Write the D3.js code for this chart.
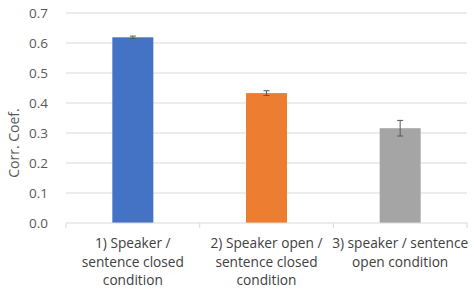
<!DOCTYPE html>
<html>
<head>
<meta charset="utf-8">
<script src="https://cdn.jsdelivr.net/npm/d3@7"></script>
<style>
  body { margin: 0; background: #fff; }
  svg { display: block; font-family: "Open Sans", "Liberation Sans", sans-serif; }
</style>
</head>
<body>
<svg id="chart"></svg>
<script>
const width = 474
const height = 293
const margin = { top: 13, right: 7, bottom: 70, left: 66 }

// data
const categories = [
    ["1) Speaker /", "sentence closed", "condition"],
    ["2) Speaker open /", "sentence closed", "condition"],
    ["3) speaker / sentence", "open condition"]
]
const values = [0.619, 0.433, 0.316]
const errors = [0.004, 0.008, 0.026]
const colors = ["#4472c4", "#ed7d31", "#a5a5a5"]
const yTicks = [0, 0.1, 0.2, 0.3, 0.4, 0.5, 0.6, 0.7]

const data = values.map((v, i) => ({ i, label: categories[i], value: v, err: errors[i], color: colors[i] }))

const svg = d3.select("#chart").attr("width", width).attr("height", height)

const x = d3.scaleBand()
    .domain(data.map(d => d.i))
    .range([margin.left, width - margin.right])
    .paddingInner(0)
    .paddingOuter(0)

const y = d3.scaleLinear()
    .domain([0, 0.7])
    .range([height - margin.bottom, margin.top])

// gridlines
svg.append("g")
    .selectAll("line")
    .data(yTicks.slice(1))
    .join("line")
    .attr("x1", margin.left)
    .attr("x2", width - margin.right)
    .attr("y1", d => y(d))
    .attr("y2", d => y(d))
    .attr("stroke", "#d9d9d9")
    .attr("stroke-width", 1)

// y axis labels
svg.append("g")
    .attr("transform", `translate(${margin.left},0)`)
    .call(d3.axisLeft(y).tickValues(yTicks).tickFormat(d3.format(".1f")).tickSize(0).tickPadding(18))
    .call(g => g.select(".domain").remove())
    .call(g => g.selectAll("text").attr("fill", "#595959").attr("font-size", 13.5)
        .attr("font-family", "'Open Sans', sans-serif"))

// y title
svg.append("text")
    .attr("transform", `translate(19,143) rotate(-90)`)
    .attr("text-anchor", "middle")
    .attr("fill", "#595959")
    .attr("font-size", 14)
    .text("Corr. Coef.")

// bars
const barW = 41
svg.append("g")
    .selectAll("rect")
    .data(data)
    .join("rect")
    .attr("x", d => x(d.i) + x.bandwidth() / 2 - barW / 2)
    .attr("y", d => y(d.value))
    .attr("width", barW)
    .attr("height", d => y(0) - y(d.value))
    .attr("fill", d => d.color)

// error bars
const eb = svg.append("g").attr("stroke", "#595959").attr("stroke-width", 1)
data.forEach(d => {
    const cx = x(d.i) + x.bandwidth() / 2
    eb.append("line").attr("x1", cx).attr("x2", cx)
        .attr("y1", y(d.value + d.err)).attr("y2", y(d.value - d.err))
    eb.append("line").attr("x1", cx - 3).attr("x2", cx + 3)
        .attr("y1", y(d.value + d.err)).attr("y2", y(d.value + d.err))
    eb.append("line").attr("x1", cx - 3).attr("x2", cx + 3)
        .attr("y1", y(d.value - d.err)).attr("y2", y(d.value - d.err))
})

// x axis
const xAxis = svg.append("g")
    .attr("transform", `translate(0,${y(0)})`)
xAxis.append("line")
    .attr("x1", margin.left).attr("x2", width - margin.right)
    .attr("stroke", "#d9d9d9")
xAxis.selectAll("line.tick")
    .data(d3.range(data.length + 1))
    .join("line")
    .attr("class", "tick")
    .attr("x1", i => i < data.length ? x(i) : x(data.length - 1) + x.bandwidth())
    .attr("x2", i => i < data.length ? x(i) : x(data.length - 1) + x.bandwidth())
    .attr("y1", 0).attr("y2", 5)
    .attr("stroke", "#d9d9d9")

const labels = xAxis.selectAll("text")
    .data(data)
    .join("text")
    .attr("text-anchor", "middle")
    .attr("fill", "#404040")
    .attr("font-size", 13.7)
labels.selectAll("tspan")
    .data(d => d.label.map(t => ({ t, cx: x(d.i) + x.bandwidth() / 2 })))
    .join("tspan")
    .attr("x", d => d.cx)
    .attr("y", (d, k) => 25 + k * 18.5)
    .text(d => d.t)
</script>
</body>
</html>
